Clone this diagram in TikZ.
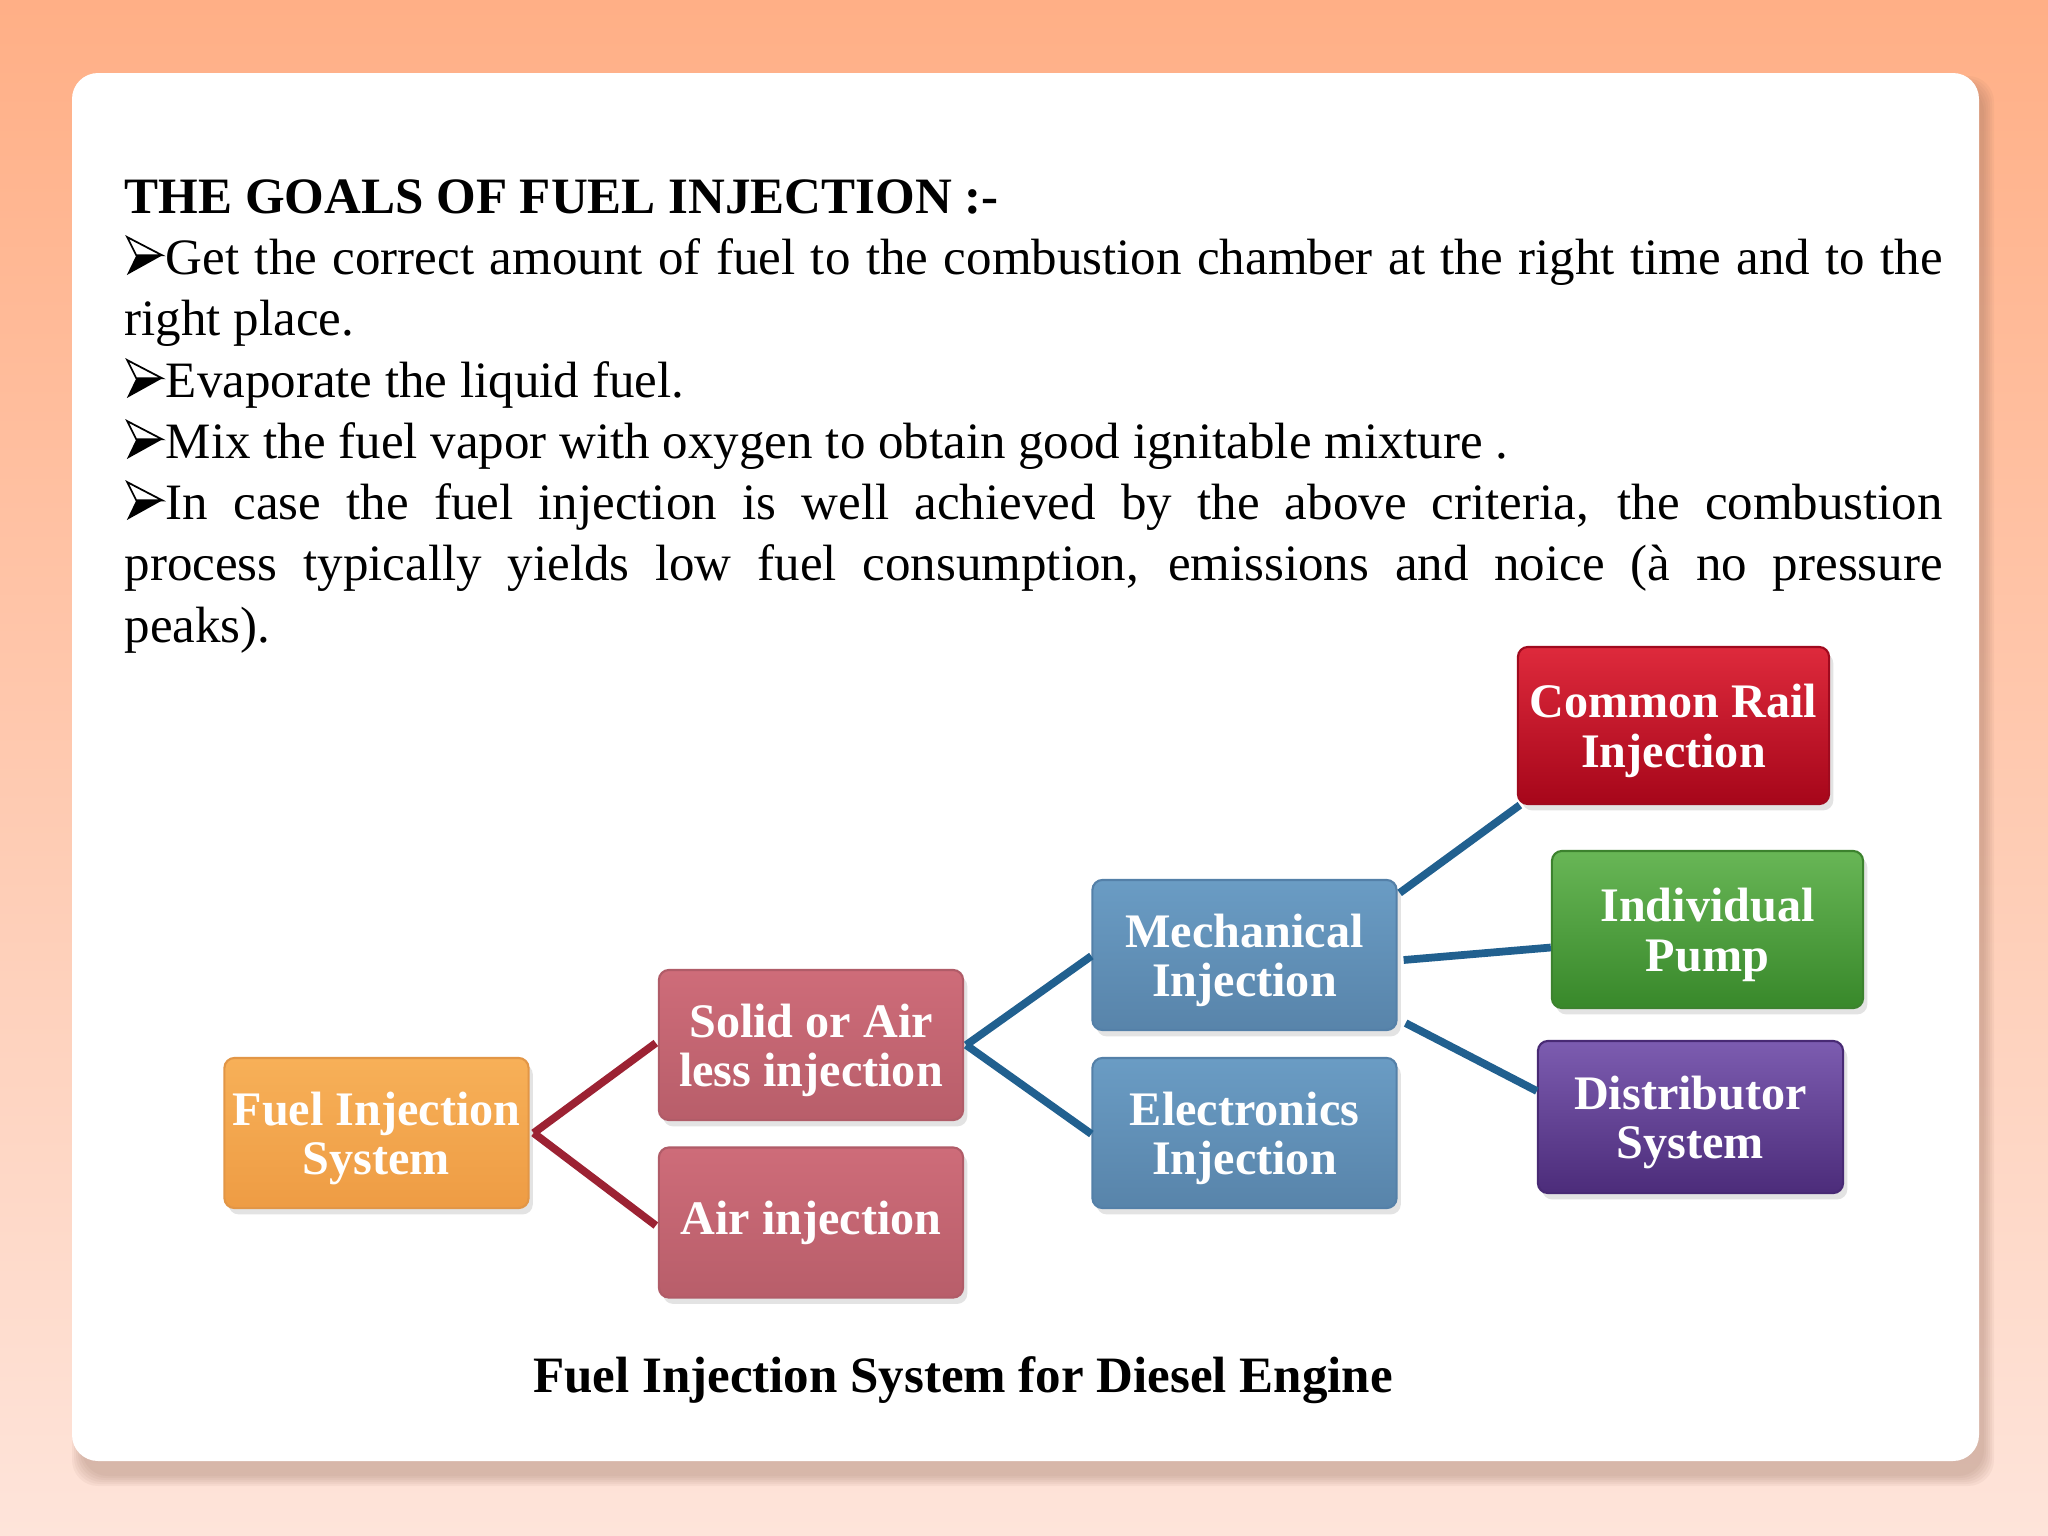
\documentclass[tikz,border=0pt]{standalone}
\usepackage{fontspec}
\setmainfont{Liberation Serif}
\usetikzlibrary{shadows,calc}

\definecolor{bgtop}{RGB}{255,175,134}
\definecolor{bgbot}{RGB}{254,228,218}
\definecolor{cardshadow}{RGB}{150,110,95}
\definecolor{orgtop}{RGB}{247,176,88}
\definecolor{orgbot}{RGB}{238,156,68}
\definecolor{orgdraw}{RGB}{226,150,70}
\definecolor{rosetop}{RGB}{206,108,121}
\definecolor{rosebot}{RGB}{184,94,106}
\definecolor{rosedraw}{RGB}{176,92,104}
\definecolor{bluetop}{RGB}{106,156,196}
\definecolor{bluebot}{RGB}{88,132,170}
\definecolor{bluedraw}{RGB}{84,128,168}
\definecolor{redtop}{RGB}{222,42,60}
\definecolor{redbot}{RGB}{166,6,26}
\definecolor{reddraw}{RGB}{160,10,30}
\definecolor{greentop}{RGB}{104,182,86}
\definecolor{greenbot}{RGB}{56,136,42}
\definecolor{greendraw}{RGB}{60,130,46}
\definecolor{purptop}{RGB}{124,92,176}
\definecolor{purpbot}{RGB}{76,44,122}
\definecolor{purpdraw}{RGB}{72,42,116}
\definecolor{redline}{RGB}{156,34,51}
\definecolor{blueline}{RGB}{33,96,143}

\newcommand{\bodyfont}{\fontsize{14.5pt}{17.4pt}\selectfont}
\newcommand{\bulgap}{\hspace*{11.7pt}}
\newcommand{\fstrut}{\rule{0pt}{12.6pt}}

\tikzset{
  box/.style={rounded corners=0.1cm, minimum width=3.04cm, minimum height=1.5cm,
    align=center, text=white, inner sep=0pt, line width=0.6pt,
    font=\fontsize{13.7pt}{14.1pt}\selectfont\bfseries,
    drop shadow={shadow xshift=1.2pt, shadow yshift=-1.8pt, opacity=0.22}},
  orangebox/.style={box, top color=orgtop, bottom color=orgbot, draw=orgdraw},
  rosebox/.style={box, top color=rosetop, bottom color=rosebot, draw=rosedraw},
  bluebox/.style={box, top color=bluetop, bottom color=bluebot, draw=bluedraw},
  redbox/.style={box, top color=redtop, bottom color=redbot, draw=reddraw,
    minimum width=3.11cm, minimum height=1.57cm},
  greenbox/.style={box, top color=greentop, bottom color=greenbot, draw=greendraw,
    minimum width=3.11cm, minimum height=1.57cm},
  purplebox/.style={box, top color=purptop, bottom color=purpbot, draw=purpdraw,
    minimum width=3.05cm, minimum height=1.52cm},
  redconn/.style={draw=redline, line width=2.2pt},
  blueconn/.style={draw=blueline, line width=2.2pt},
  bodyline/.style={anchor=base west, inner sep=0pt, font=\bodyfont},
  bullet/.pic={
    \fill[black] (3.5pt,5.3pt) -- (10.9pt,5.3pt) -- (0.8pt,-0.3pt) -- cycle;
    \filldraw[fill=white, draw=black, line width=0.5pt, line join=miter]
      (0.9pt,10.5pt) -- (10.9pt,5.3pt) -- (3.5pt,5.3pt) -- cycle;
  },
}

\begin{document}
\begin{tikzpicture}[x=0.01cm,y=-0.01cm]
\useasboundingbox (0,0) rectangle (2048,1536);
\shade[top color=bgtop, bottom color=bgbot] (0,0) rectangle (2048,1536);

% card shadow
\foreach \i in {0,2,...,10}
  \fill[cardshadow, opacity=0.07, rounded corners=0.26cm]
    (82-\i,86-\i) rectangle (1984+\i,1476+\i);
% card
\fill[white, rounded corners=0.26cm] (72,73) rectangle (1979,1461);

% text
\node[bodyline] (l1) at (124,213) {\bfseries THE GOALS OF FUEL INJECTION :-};
\node[bodyline] (l2) at (124,274) {\makebox[18.17cm][s]{\bulgap Get the correct amount of fuel to the combustion chamber at the right time and to the}};
\node[bodyline] (l3) at (124,335) {right place.};
\node[bodyline] (l4) at (124,397) {\bulgap Evaporate the liquid fuel.};
\node[bodyline] (l5) at (124,458) {\bulgap Mix the fuel vapor with oxygen to obtain good ignitable mixture .};
\node[bodyline] (l6) at (124,519) {\makebox[18.17cm][s]{\bulgap In case the fuel injection is well achieved by the above criteria, the combustion}};
\node[bodyline] (l7) at (124,580) {\makebox[18.17cm][s]{process typically yields low fuel consumption, emissions and noice (à no pressure}};
\node[bodyline] (l8) at (124,642) {peaks).};

\pic at (l2.base west) {bullet};
\pic at (l4.base west) {bullet};
\pic at (l5.base west) {bullet};
\pic at (l6.base west) {bullet};

% boxes
\node[orangebox] (fis) at (376.5,1133) {\fstrut Fuel Injection\\System};
\node[rosebox] (solid) at (811,1045) {\fstrut Solid or Air\\less injection};
\node[rosebox] (air) at (811,1222.5) {Air injection};
\node[bluebox] (mech) at (1244.5,955) {\fstrut Mechanical\\Injection};
\node[bluebox] (elec) at (1244.5,1133) {\fstrut Electronics\\Injection};
\node[redbox] (crail) at (1673.5,725.5) {\fstrut Common Rail\\Injection};
\node[greenbox] (ipump) at (1707.5,929.5) {\fstrut Individual\\Pump};
\node[purplebox] (dist) at (1690.5,1117) {\fstrut Distributor\\System};

% connectors
\draw[redconn] ($(fis.east)+(4,0)$) -- ($(solid.west)+(-2,-2)$);
\draw[redconn] ($(fis.east)+(4,0)$) -- ($(air.west)+(-2,3)$);
\draw[blueconn] ($(solid.east)+(2,0)$) -- ($(mech.west)+(0,1)$);
\draw[blueconn] ($(solid.east)+(2,0)$) -- ($(elec.west)+(0,1)$);
\draw[blueconn] ($(mech.north east)+(2,14)$) -- ($(crail.south west)+(3,0)$);
\draw[blueconn] ($(mech.east)+(6,5)$) -- ($(ipump.west)+(0,18)$);
\draw[blueconn] ($(mech.south east)+(8,-8)$) -- ($(dist.west)+(0,-26)$);

% caption
\node[anchor=base, inner sep=0pt, font=\fontsize{14.5pt}{17pt}\selectfont\bfseries] (cap) at (963,1392) {Fuel Injection System for Diesel Engine};
\end{tikzpicture}
\end{document}
